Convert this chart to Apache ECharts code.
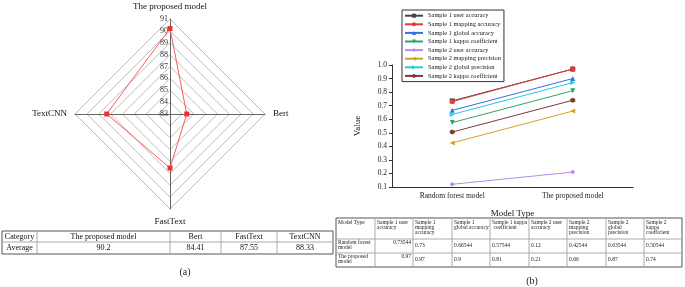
<!DOCTYPE html>
<html>
<head>
<meta charset="utf-8">
<script src="https://cdn.jsdelivr.net/npm/echarts@6/dist/echarts.min.js"></script>
<style>
  html, body { margin: 0; padding: 0; background: #fff; }
  #main { width: 685px; height: 287px; }
</style>
</head>
<body>
<div id="main"></div>
<script>
// (a) radar data
const modelNames = ['The proposed model', 'Bert', 'FastText', 'TextCNN'];
const modelAverage = [90.2, 84.41, 87.55, 88.33];
const radarMin = 83;
const radarMax = 91;
// radar goes counter-clockwise from the top
const radarOrder = ['The proposed model', 'TextCNN', 'FastText', 'Bert'];

// (b) line data
const lineCategories = ['Random forest model', 'The proposed model'];
const seriesNames = [
  'Sample 1 user accuracy', 'Sample 1 mapping accuracy', 'Sample 1 global accuracy',
  'Sample 1 kappa coefficient', 'Sample 2 user accuracy', 'Sample 2 mapping precision',
  'Sample 2 global precision', 'Sample 2 kappa coefficient'
];
const s1UserAcc = [0.73544, 0.97];
const s1MappingAcc = [0.73, 0.97];
const s1GlobalAcc = [0.66544, 0.9];
const s1Kappa = [0.57544, 0.81];
const s2UserAcc = [0.12, 0.21];
const s2MappingPrec = [0.42544, 0.66];
const s2GlobalPrec = [0.63544, 0.87];
const s2Kappa = [0.50544, 0.74];
const seriesValues = [s1UserAcc, s1MappingAcc, s1GlobalAcc, s1Kappa, s2UserAcc, s2MappingPrec, s2GlobalPrec, s2Kappa];
const tableRowNames = ['Random forest model', 'The proposed model'];
const tableTextB = [
  ['0.73544', '0.73', '0.66544', '0.57544', '0.12', '0.42544', '0.63544', '0.50544'],
  ['0.97', '0.97', '0.9', '0.81', '0.21', '0.66', '0.87', '0.74']
];

const colors = ['#444444', '#e8383d', '#3a6fe0', '#2fa36b', '#b68cf0', '#d9a21b', '#22cfd6', '#7b3a3a'];
const symbols = ['rect', 'circle', 'triangle', 'triangle', 'diamond', 'triangle', 'triangle',
  'path://M0,-1L0.866,-0.5L0.866,0.5L0,1L-0.866,0.5L-0.866,-0.5Z'];
const rotations = [0, 0, 0, 180, 0, 90, -90, 0];

const serif = 'Liberation Serif';

// 表格 (a)
function tableA() {
  const xs = [2, 37, 170, 221, 277, 333];
  const ys = [231, 242, 254];
  const rows = [['Category'].concat(modelNames), ['Average'].concat(modelAverage.map(String))];
  const g = [];
  g.push({type: 'rect', shape: {x: xs[0], y: ys[0], width: xs[5] - xs[0], height: ys[2] - ys[0]},
    style: {fill: 'none', stroke: '#555', lineWidth: 1}});
  g.push({type: 'line', shape: {x1: xs[0], y1: ys[1], x2: xs[5], y2: ys[1]}, style: {stroke: '#aaa', lineWidth: 1}});
  for (let i = 1; i < xs.length - 1; i++) {
    g.push({type: 'line', shape: {x1: xs[i], y1: ys[0], x2: xs[i], y2: ys[2]}, style: {stroke: '#aaa', lineWidth: 1}});
  }
  rows.forEach((r, ri) => {
    r.forEach((t, ci) => {
      g.push({type: 'text', x: (xs[ci] + xs[ci + 1]) / 2, y: (ys[ri] + ys[ri + 1]) / 2,
        style: {text: t, align: 'center', verticalAlign: 'middle', font: '8px ' + serif, fill: '#111'}});
    });
  });
  g.push({type: 'text', x: 185, y: 272, style: {text: '(a)', align: 'center', verticalAlign: 'middle', font: '10px ' + serif, fill: '#222'}});
  return g;
}

// 表格 (b)
function tableB() {
  const xs = [336, 375, 413, 452, 490, 529, 567, 606, 644, 682];
  const ys = [218, 239, 253, 267];
  const g = [];
  g.push({type: 'rect', shape: {x: xs[0], y: ys[0], width: xs[9] - xs[0], height: ys[3] - ys[0]},
    style: {fill: 'none', stroke: '#555', lineWidth: 1}});
  for (let i = 1; i < ys.length - 1; i++) {
    g.push({type: 'line', shape: {x1: xs[0], y1: ys[i], x2: xs[9], y2: ys[i]}, style: {stroke: '#aaa', lineWidth: 1}});
  }
  for (let i = 1; i < xs.length - 1; i++) {
    g.push({type: 'line', shape: {x1: xs[i], y1: ys[0], x2: xs[i], y2: ys[3]}, style: {stroke: '#aaa', lineWidth: 1}});
  }
  const header = ['Model Type'].concat(seriesNames);
  const cellText = (t, x, y, w, align) => ({
    type: 'text', x: x, y: y,
    style: {text: t, width: w, overflow: 'break', align: align, verticalAlign: 'top',
      font: '5.5px ' + serif, lineHeight: 5, fill: '#222'}
  });
  header.forEach((t, ci) => g.push(cellText(t, xs[ci] + 2, ys[0] + 2, xs[ci + 1] - xs[ci] - 3, 'left')));
  tableRowNames.forEach((name, ri) => {
    g.push(cellText(name, xs[0] + 2, ys[ri + 1] + 1.5, xs[1] - xs[0] - 4, 'left'));
    tableTextB[ri].forEach((t, ci) => {
      if (ci === 0) {
        g.push(cellText(t, xs[2] - 2, ys[ri + 1] + 1.5, 36, 'right'));
      } else {
        g.push(cellText(t, xs[ci + 1] + 2, ys[ri + 1] + 4, 36, 'left'));
      }
    });
  });
  g.push({type: 'text', x: 532, y: 281, style: {text: '(b)', align: 'center', verticalAlign: 'middle', font: '10px ' + serif, fill: '#222'}});
  return g;
}

const chart = echarts.init(document.getElementById('main'));
chart.setOption({
  animation: false,
  textStyle: {fontFamily: serif},
  radar: {
    center: [170, 114],
    radius: 95,
    startAngle: 90,
    shape: 'polygon',
    splitNumber: 8,
    indicator: radarOrder.map(n => ({name: n, min: radarMin, max: radarMax})),
    axisName: {color: '#111', fontSize: 9, fontFamily: serif},
    nameGap: 8,
    axisLine: {lineStyle: {color: '#666', width: 1}},
    axisTick: {show: false},
    splitLine: {lineStyle: {color: '#bbb', width: 1}},
    splitArea: {show: false}
  },
  grid: [
    // 雷达图刻度
    {left: 170, top: 19, width: 1, height: 95},
    // 折线图
    {left: 392, right: 52, top: 65, bottom: 100}
  ],
  xAxis: [
    {gridIndex: 0, type: 'value', show: false},
    {
      gridIndex: 1, type: 'category', data: lineCategories, boundaryGap: true,
      name: 'Model Type', nameLocation: 'middle', nameGap: 22,
      nameTextStyle: {fontSize: 9, color: '#111', fontFamily: serif},
      axisLine: {lineStyle: {color: '#333'}},
      axisTick: {alignWithLabel: true, length: 3},
      axisLabel: {fontSize: 7.5, color: '#222', margin: 5, fontFamily: serif}
    }
  ],
  yAxis: [
    {
      gridIndex: 0, type: 'value', min: radarMin, max: radarMax, interval: 1,
      axisLine: {show: false}, axisTick: {show: false}, splitLine: {show: false},
      axisLabel: {fontSize: 8, color: '#333', margin: 2, fontFamily: serif}
    },
    {
      gridIndex: 1, type: 'value', min: 0.1, max: 1.0, interval: 0.1,
      name: 'Value', nameLocation: 'middle', nameGap: 30,
      nameTextStyle: {fontSize: 9, color: '#111', fontFamily: serif},
      axisLine: {show: true, lineStyle: {color: '#333'}},
      axisTick: {show: true, length: 3},
      splitLine: {show: false},
      axisLabel: {fontSize: 7.5, color: '#222', margin: 5, fontFamily: serif,
        formatter: v => v.toFixed(1)}
    }
  ],
  legend: {
    orient: 'vertical',
    left: 402,
    top: 10,
    padding: [2, 3, 2, 2],
    borderColor: '#333',
    borderWidth: 1,
    itemGap: 1.2,
    itemWidth: 18,
    itemHeight: 5,
    data: seriesNames,
    textStyle: {fontSize: 6.4, lineHeight: 7.4, color: '#222', fontFamily: serif}
  },
  series: [
    {
      type: 'radar',
      symbol: 'rect',
      symbolSize: 5,
      lineStyle: {color: '#ff5a5a', width: 1},
      itemStyle: {color: '#f03030'},
      data: [{value: radarOrder.map(n => modelAverage[modelNames.indexOf(n)]), name: 'Average'}]
    }
  ].concat(seriesNames.map((name, i) => ({
    name: name,
    type: 'line',
    xAxisIndex: 1,
    yAxisIndex: 1,
    data: seriesValues[i],
    symbol: symbols[i],
    symbolRotate: rotations[i],
    symbolSize: 5,
    color: colors[i],
    lineStyle: {width: 1}
  }))),
  graphic: tableA().concat(tableB())
});
</script>
</body>
</html>
